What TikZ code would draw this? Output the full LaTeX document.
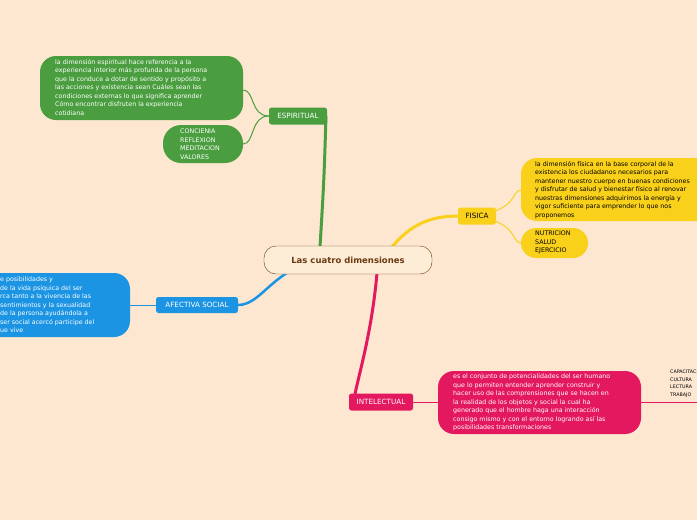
\documentclass[tikz,border=0pt]{standalone}
\usepackage{fontspec}
\setmainfont{DejaVu Sans}
\begin{document}
\begin{tikzpicture}[x=1pt,y=-1pt,
 txt/.style={font=\fontsize{6.3}{8.5}\selectfont,text=white,align=left,inner sep=0,anchor=north west},
 lab/.style={rounded corners=2.5pt,font=\fontsize{7.2}{8}\selectfont,text=white,inner sep=0},
 blob/.style={rounded corners=16pt,draw=none}]
\definecolor{bg}{HTML}{FDE7D0}
\definecolor{gr}{HTML}{4A9E3F}
\definecolor{ye}{HTML}{F9D11B}
\definecolor{bl}{HTML}{1B94E3}
\definecolor{pk}{HTML}{E4185E}
\definecolor{br}{HTML}{6B3A12}
\fill[bg] (0,0) rectangle (697,520);
\useasboundingbox (0,0) rectangle (697,520);
% connectors
\draw[gr,line width=3] (320,247) .. controls (324,180) .. (326,116);
\draw[ye,line width=3] (392,247) .. controls (410,225) and (430,216) .. (458,216);
\draw[bl,line width=2.5] (310,262) .. controls (270,275) and (260,305) .. (238,305);
\draw[pk,line width=3] (377,273) .. controls (372,330) and (360,370) .. (355,394);
\draw[gr,line width=1] (269,116) .. controls (250,116) and (255,90) .. (243,90);
\draw[gr,line width=1] (269,116) .. controls (250,116) and (255,144) .. (243,144);
\draw[ye,line width=1] (458,216) .. controls (520,216) and (510,190) .. (521,190);
\draw[ye,line width=1] (458,216) .. controls (520,216) and (510,243) .. (521,243);
\draw[bl,line width=1] (130,305) -- (156,305);
\draw[pk,line width=1] (413,402) -- (438,402);
\draw[pk,line width=1] (641,402) -- (697,402);
% center
\node[draw=br,fill={rgb,255:red,253;green,236;blue,214},text=br,rounded corners=12pt,minimum width=168,minimum height=28,font=\bfseries\fontsize{8.5}{10}\selectfont] (c) at (348,260) {Las cuatro dimensiones};
% espiritual
\node[lab,fill=gr,minimum width=58,minimum height=17] (esp) at (298,116) {ESPIRITUAL};
\fill[gr,blob] (40,56) rectangle (243,120);
\node[txt] (e1) at (55,59) {la dimensión espiritual hace referencia a la\\experiencia interior más profunda de la persona\\que la conduce a dotar de sentido y propósito a\\las acciones y existencia sean Cuáles sean las\\condiciones externas lo que significa aprender\\Cómo encontrar disfruten la experiencia\\cotidiana};
\fill[gr,rounded corners=18pt] (163,125) rectangle (243,163);
\node[txt] (e2) at (180,129) {CONCIENIA\\REFLEXION\\MEDITACION\\VALORES};
% fisica
\node[lab,fill=ye,text=black,minimum width=38,minimum height=17] (fis) at (477,216) {FISICA};
\fill[ye,blob] (521,158) rectangle (720,221);
\node[txt,text=black] (f1) at (535,161) {la dimensión física en la base corporal de la\\existencia los ciudadanos necesarios para\\mantener nuestro cuerpo en buenas condiciones\\y disfrutar de salud y bienestar físico al renovar\\nuestras dimensiones adquirimos la energía y\\vigor suficiente para emprender lo que nos\\proponemos};
\fill[ye,rounded corners=15pt] (521,228) rectangle (588,258);
\node[txt,text=black] (f2) at (535,231) {NUTRICION\\SALUD\\EJERCICIO};
% afectiva
\node[lab,fill=bl,minimum width=82,minimum height=16] (afe) at (197,305) {AFECTIVA SOCIAL};
\fill[bl,blob] (-30,273) rectangle (130,337);
\node[txt] (a1) at (0,277) {e posibilidades y\\de la vida psíquica del ser\\rca tanto a la vivencia de las\\ sentimientos y la sexualidad\\de la persona ayudándola a\\ ser social acercó participe del\\ue vive};
% intelectual
\node[lab,fill=pk,minimum width=64,minimum height=17] (int) at (381,402) {INTELECTUAL};
\fill[pk,blob] (438,371) rectangle (641,434);
\node[txt] (i1) at (453,374) {es el conjunto de potencialidades del ser humano\\que lo permiten entender aprender construir y\\hacer uso de las comprensiones que se hacen en\\la realidad de los objetos y social la cual ha\\generado que el hombre haga una interacción\\consigo mismo y con el entorno logrando así las\\posibilidades transformaciones};
\node[txt,text=black,font=\fontsize{4.8}{7.6}\selectfont] (i2) at (670,370) {CAPACITACION\\CULTURA\\LECTURA\\TRABAJO};
\end{tikzpicture}
\end{document}
